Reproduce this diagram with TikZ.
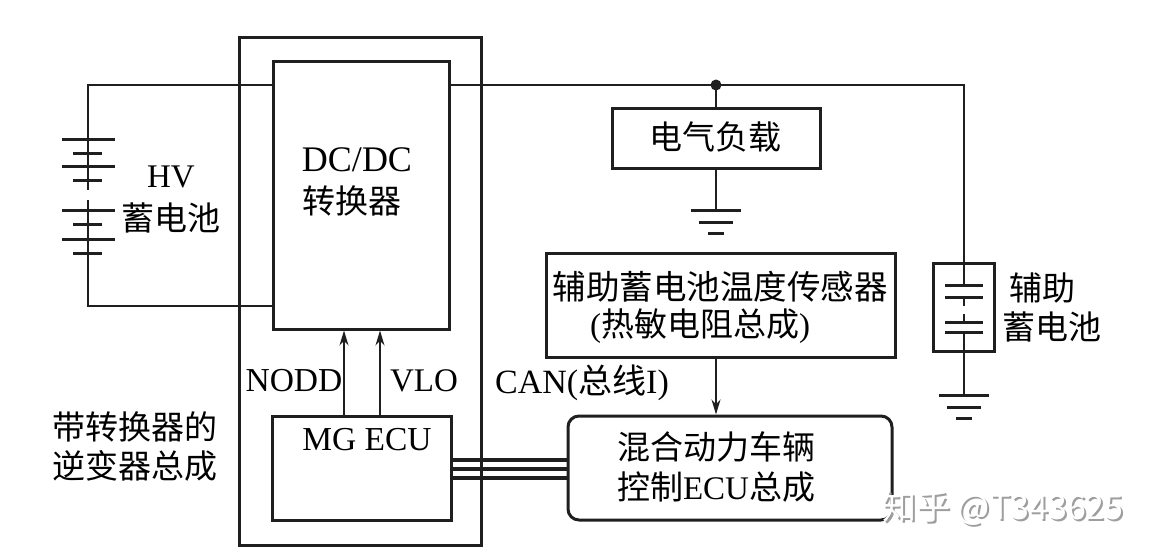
\documentclass[tikz,border=0pt]{standalone}
\usepackage{fontspec}
\setmainfont{Liberation Serif}
\newfontfamily\cjk{Noto Sans CJK SC}
\usepackage[dvipsnames]{xcolor}
\usetikzlibrary{calc,arrows.meta}
\definecolor{inkline}{gray}{0.12}
\definecolor{markgray}{gray}{0.62}

\begin{document}
\begin{tikzpicture}[x=1pt,y=-1pt,line width=1.5pt,draw=inkline,
    box/.style={rectangle,draw,line width=3pt,inner sep=0pt},
    label/.style={text=black,inner sep=0pt,align=center,font=\fontsize{33}{39}\selectfont},
    mark label/.style={inner sep=0pt,font=\fontsize{34}{40}\selectfont},
    wire/.style={line width=2pt},
    plate/.style={line width=3pt},
    signal/.style={line width=1.6pt,-{Stealth[length=15pt,width=9pt]}}]

    \useasboundingbox (0,0) rectangle (1154,555);

    % boxes
    \node[box,minimum width=242pt,minimum height=508pt] (inv) at (360,291) {};
    \node[box,minimum width=176pt,minimum height=268pt] (dcdc) at (361,195) {};
    \node[box,minimum width=179pt,minimum height=104pt] (mg) at (361.5,468) {};
    \node[box,minimum width=208pt,minimum height=60pt] (load) at (716,138) {};
    \node[box,minimum width=349pt,minimum height=104pt] (sensor) at (720.5,305) {};
    \node[box,minimum width=61pt,minimum height=88pt] (aux) at (963.5,307) {};
    \node[box,rounded corners=11pt,minimum width=324pt,minimum height=104pt] (hv) at (730,468) {};

    % wires
    \coordinate (join) at (716,85);
    \coordinate (hvtop) at (88,139);
    \coordinate (hvbot) at (88,253);
    \coordinate (corner) at (964,85);
    \coordinate (auxtop) at (964,285);
    \coordinate (auxbot) at (964,332);
    \coordinate (gnd1) at (716,210);
    \coordinate (gnd2) at (964,395);

    \draw[wire] (hvtop) |- (dcdc.west |- join);
    \draw[wire] (hvbot) |- (dcdc.west |- 0,306);
    \draw[wire] (dcdc.east |- join) -- (join) -- (corner) -- (auxtop);
    \draw[wire] (join) -- (load.north);
    \draw[wire] (load.south) -- (gnd1);
    \draw[wire] (auxbot) -- (gnd2);
    \draw[wire] (964,297) -- (964,306);
    \draw[wire] (964,314) -- (964,322);
    \fill[inkline] (join) circle (5.5pt);

    % HV battery
    \draw[plate] (62,139) -- (115,139);
    \draw[plate] (73,153) -- (102,153);
    \draw[plate] (62,166) -- (115,166);
    \draw[plate] (73,180) -- (102,180);
    \draw[plate] (62,210) -- (115,210);
    \draw[plate] (73,224) -- (102,224);
    \draw[plate] (62,239) -- (115,239);
    \draw[plate] (73,253) -- (102,253);
    \draw[wire] (88,139) -- (88,190);
    \draw[wire] (88,200) -- (88,253);

    % auxiliary battery
    \draw[plate] (945,285) -- (983,285);
    \draw[plate] (945,297) -- (983,297);
    \draw[plate] (945,322) -- (983,322);
    \draw[plate] (945,332) -- (983,332);

    % grounds
    \foreach \g/\w in {0/25,12/17,23/8} {
        \draw[plate] ($(gnd1)+(-\w,\g)$) -- ($(gnd1)+(\w,\g)$);
        \draw[plate] ($(gnd2)+(-\w,\g)$) -- ($(gnd2)+(\w,\g)$);
    }

    % signals
    \draw[signal] (mg.north -| 344,0) -- (dcdc.south -| 344,0);
    \draw[signal] (mg.north -| 380,0) -- (dcdc.south -| 380,0);
    \draw[signal] (sensor.south -| 716,0) -- (hv.north -| 716,0);

    % bus
    \foreach \y in {460,469,478} {
        \draw[line width=4.6pt] (mg.east |- 0,\y) -- (hv.west |- 0,\y);
    }

    % labels
    \node[label] (hvname) at (171,177) {HV};
    \node[label] (hvbat) at (171,218) {\cjk 蓄电池};
    \node[label,font=\fontsize{36}{40}\selectfont] (dcname) at (357,160) {DC/DC};
    \node[label] (dcconv) at (352,201) {\cjk 转换器};
    \node[label] (loadname) at (715,137) {\cjk 电气负载};
    \node[label,font=\fontsize{33.5}{39}\selectfont] (sensor1) at (720,287) {\cjk 辅助蓄电池温度传感器};
    \node[label] (sensor2) at (700,326) {({\cjk 热敏电阻总成})};
    \node[label,font=\fontsize{33.5}{39}\selectfont] (nodd) at (294,381) {NODD};
    \node[label] (vlo) at (424,381) {VLO};
    \node[label,font=\fontsize{34}{39}\selectfont] (can) at (582,383) {CAN({\cjk 总线}I)};
    \node[label,font=\fontsize{33.5}{39}\selectfont] (mgname) at (367,440) {MG ECU};
    \node[label] (hv1) at (716,447) {\cjk 混合动力车辆};
    \node[label] (hv2) at (716,487) {{\cjk 控制}ECU{\cjk 总成}};
    \node[label] (inv1) at (135,427) {\cjk 带转换器的};
    \node[label] (inv2) at (135,466) {\cjk 逆变器总成};
    \node[label] (aux1) at (1042,288) {\cjk 辅助};
    \node[label] (aux2) at (1052,327) {\cjk 蓄电池};

    % watermark
    \node[mark label,text=markgray] (markback) at (1005,510) {\cjk 知乎 @T343625};
    \node[mark label,text=white] (mark) at (1003,508) {\cjk 知乎 @T343625};
\end{tikzpicture}
\end{document}
